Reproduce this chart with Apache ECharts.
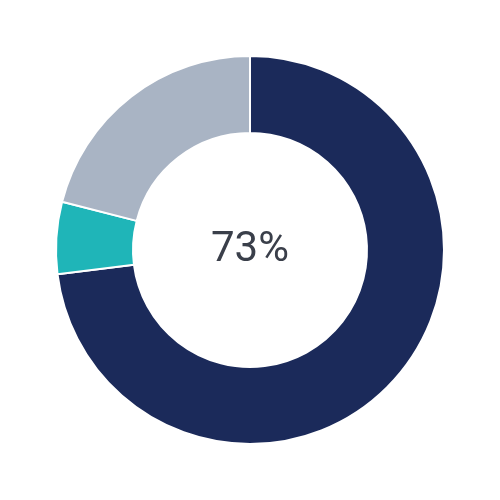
<!DOCTYPE html>
<html>
<head>
<meta charset="utf-8">
<script src="https://cdn.jsdelivr.net/npm/echarts@6/dist/echarts.min.js"></script>
<style>html,body{margin:0;padding:0;background:#fff}#chart{width:500px;height:500px}</style>
</head>
<body>
<div id="chart"></div>
<script>
var names = ['A', 'B', 'C'];
var values = [73, 6, 21];
var colors = ['#1b2a5a', '#1fb5b8', '#a9b4c4'];
var centerLabel = '73%';

var chart = echarts.init(document.getElementById('chart'));
var data = [];
for (var i = 0; i < names.length; i++) {
    data.push({ name: names[i], value: values[i], itemStyle: { color: colors[i] } });
}
chart.setOption({
    animation: false,
    title: {
        text: centerLabel,
        left: 'center',
        top: 'middle',
        textStyle: { fontSize: 42, fontWeight: 'normal', color: '#3a3f4a', fontFamily: 'Roboto' }
    },
    series: [{
        type: 'pie',
        center: [250, 250],
        radius: [117, 194],
        startAngle: 90,
        clockwise: true,
        label: { show: false },
        labelLine: { show: false },
        itemStyle: { borderColor: '#fff', borderWidth: 2 },
        data: data
    }]
});
</script>
</body>
</html>
